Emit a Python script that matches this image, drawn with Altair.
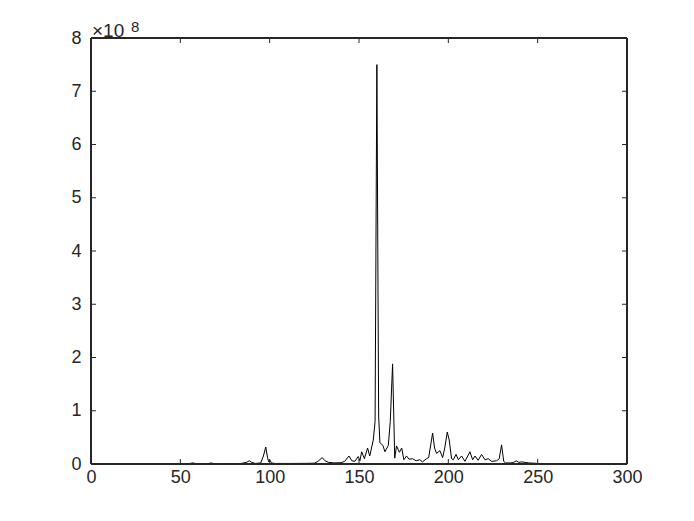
import altair as alt
import pandas as pd

# Data (y in units of 1e8)
xs = [0, 5, 10, 15, 20, 25, 30, 35, 40, 45, 50, 55, 57, 59, 63, 66, 67, 69, 75, 80, 84, 87, 88.6, 90, 92, 95,
      96.5, 97.8, 98.8, 99.5, 100, 101, 103, 110, 120, 125, 127, 129.4, 131, 133, 136, 140, 142, 144.4, 146,
      147.7, 149.6, 150.5, 151.5, 153, 154.8, 156, 157, 158, 159, 160, 161, 161.7, 163.4, 164.5, 166.4, 167.5,
      168.8, 170, 171, 172.6, 173.9, 175.1, 176.6, 178, 180, 182, 184, 185.5, 187.8, 189, 191.2, 192.3, 193.4,
      195.3, 196.8, 198, 199.4, 200.5, 201.8, 202.8, 204.3, 205.6, 207.4, 209.3, 212.1, 213.6, 214.9, 216.7,
      218.6, 220.5, 222.3, 224.2, 227, 228.5, 229.8, 231, 232, 235, 236.5, 238, 239.5, 241, 243, 245, 248, 250,
      252, 255]
ys = [0.004, 0.003, 0.005, 0.003, 0.004, 0.006, 0.004, 0.005, 0.004, 0.006, 0.005, 0.008, 0.02, 0.006, 0.005,
      0.008, 0.02, 0.006, 0.006, 0.008, 0.01, 0.03, 0.06, 0.03, 0.01, 0.02,
      0.15, 0.32, 0.12, 0.04, 0.08, 0.02, 0.01, 0.01, 0.012, 0.015, 0.05, 0.12, 0.06, 0.03, 0.02, 0.025, 0.05,
      0.15, 0.06, 0.05, 0.14, 0.06, 0.23, 0.1, 0.3, 0.15, 0.3, 0.45, 0.8, 7.5, 0.9, 0.4, 0.35, 0.23, 0.35, 0.8,
      1.88, 0.11, 0.34, 0.22, 0.3, 0.08, 0.15, 0.09, 0.1, 0.06, 0.08, 0.04, 0.1, 0.12, 0.58, 0.3, 0.2,
      0.25, 0.12, 0.3, 0.6, 0.45, 0.1, 0.08, 0.18, 0.08, 0.15, 0.05, 0.23, 0.08, 0.15, 0.07,
      0.18, 0.08, 0.1, 0.05, 0.06, 0.1, 0.36, 0.05, 0.02, 0.02, 0.03, 0.06, 0.03, 0.04, 0.03, 0.02, 0.015, 0.01,
      0.01, 0.008]

x_ticks = [0, 50, 100, 150, 200, 250, 300]
y_ticks = [0, 1, 2, 3, 4, 5, 6, 7, 8]

W, H = 536, 426
FONT = "Liberation Sans"
INK = "#262626"
FS = 18

df = pd.DataFrame({"x": xs, "y": ys})
xt = pd.DataFrame({"t": x_ticks})
yt = pd.DataFrame({"t": y_ticks})

xscale = alt.Scale(domain=[0, 300], nice=False, zero=False)
yscale = alt.Scale(domain=[0, 8], nice=False, zero=False)

line = alt.Chart(df).mark_line(color="black", strokeWidth=1, clip=True).encode(
    x=alt.X("x:Q", scale=xscale,
            axis=alt.Axis(values=x_ticks, title=None, ticks=False, domain=False, grid=False, labelFlush=False,
                          labelFont=FONT, labelFontSize=FS, labelColor=INK, labelPadding=4)),
    y=alt.Y("y:Q", scale=yscale,
            axis=alt.Axis(values=y_ticks, title=None, ticks=False, domain=False, grid=False, labelFlush=False,
                          labelFont=FONT, labelFontSize=FS, labelColor=INK, labelPadding=10)),
)

tb = alt.Chart(xt).mark_rule(color=INK, strokeWidth=1).encode(
    x=alt.X("t:Q", scale=xscale), y=alt.value(H), y2=alt.value(H - 5))
tt = alt.Chart(xt).mark_rule(color=INK, strokeWidth=1).encode(
    x=alt.X("t:Q", scale=xscale), y=alt.value(0), y2=alt.value(5))
tl = alt.Chart(yt).mark_rule(color=INK, strokeWidth=1).encode(
    y=alt.Y("t:Q", scale=yscale), x=alt.value(0), x2=alt.value(5))
tr = alt.Chart(yt).mark_rule(color=INK, strokeWidth=1).encode(
    y=alt.Y("t:Q", scale=yscale), x=alt.value(W), x2=alt.value(W - 5))

# box frame
frame_l = alt.Chart(yt).mark_rule(color=INK, strokeWidth=1).encode(
    x=alt.value(0), y=alt.value(0), y2=alt.value(H))
frame_r = alt.Chart(yt).mark_rule(color=INK, strokeWidth=1).encode(
    x=alt.value(W), y=alt.value(0), y2=alt.value(H))
frame_t = alt.Chart(xt).mark_rule(color=INK, strokeWidth=1).encode(
    y=alt.value(0), x=alt.value(0), x2=alt.value(W))
frame_b = alt.Chart(xt).mark_rule(color=INK, strokeWidth=1).encode(
    y=alt.value(H), x=alt.value(0), x2=alt.value(W))

exp_base = alt.Chart(pd.DataFrame({"s": ["×10"]})).mark_text(
    font=FONT, fontSize=19, color=INK, align="left", baseline="alphabetic").encode(
    text="s:N", x=alt.value(1), y=alt.value(-1))
exp_sup = alt.Chart(pd.DataFrame({"s": ["8"]})).mark_text(
    font=FONT, fontSize=15, color=INK, align="left", baseline="alphabetic").encode(
    text="s:N", x=alt.value(40), y=alt.value(-6))

chart = alt.layer(line, tb, tt, tl, tr, frame_l, frame_r, frame_t, frame_b, exp_base, exp_sup).properties(
    width=W, height=H,
    autosize=alt.AutoSizeParams(type="none"),
    padding={"left": 83, "top": 30, "right": 59, "bottom": 49},
).configure_view(strokeWidth=0).configure(background="white")

chart.save("out.html", embed_options={"renderer": "svg", "actions": False})
